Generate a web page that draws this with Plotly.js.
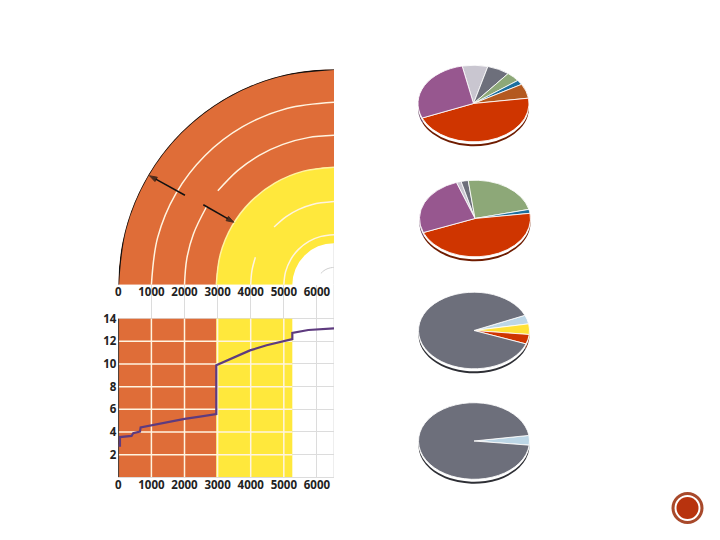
<!DOCTYPE html>
<html><head><meta charset="utf-8">
<script src="https://cdn.plot.ly/plotly-3.0.1.min.js"></script>
<style>html,body{margin:0;padding:0;background:#fff}#g{width:720px;height:540px}</style>
</head><body><div id="g"></div>
<script>
// ---- data ----
const tickDepths = [0,1000,2000,3000,4000,5000,6000];
const yTicks = [2,4,6,8,10,12,14];
const mantleDepth = [0,2960];
const coreDepth = [2960,5257];
const lineX = [0,50,50,400,450,655,675,1007,2004,2467,2960,2960,3978,4481,4985,5257,5257,5740,6516];
const lineY = [2.8,2.8,3.55,3.65,3.9,4.03,4.4,4.6,5.15,5.35,5.58,9.9,11.2,11.65,12.05,12.2,12.75,13,13.15];
const pie1Values = [26.8,23.6,14.4,7,22,165.7,100.5];
const pie1Colors = ['#c9c6d0','#6d6f7b','#8da878','#1d6f9e','#b4591f','#cf3500','#97578f'];
const pie1Rim    = ['#77757c','#3c3d44','#55654a','#10405c','#6b3412','#6f1c00','#5a3455'];
const pie2Values = [5.1,7.5,83.2,6,166.2,91.9];
const pie2Colors = ['#c9c6d0','#6d6f7b','#8da878','#1d6f9e','#cf3500','#97578f'];
const pie2Rim    = ['#77757c','#3c3d44','#55654a','#10405c','#6f1c00','#5a3455'];
const pie3Values = [13.4,16,14.5,316.1];
const pie3Colors = ['#bcd6e6','#ffe135','#cf3500','#6d6f7b'];
const pie3Rim    = ['#70808a','#998720','#6f1c00','#2e2f35'];
const pie4Values = [14.7,345.3];
const pie4Colors = ['#bcd6e6','#6d6f7b'];
const pie4Rim    = ['#70808a','#2e2f35'];

const W=720,H=540, ORANGE='#df6d38', YELLOW='#ffe83c', GRID='#dcdcdc', XMAX=6516;
const fx=p=>p/W, fy=p=>1-p/H;
const tickFont={family:'"Open Sans",sans-serif',size:11.5,color:'#222',weight:700};

const traces=[];
// ---- lower chart ----
traces.push({type:'bar',x:[(mantleDepth[0]+mantleDepth[1])/2],y:[14],width:[mantleDepth[1]-mantleDepth[0]],marker:{color:ORANGE,line:{width:0}},xaxis:'x',yaxis:'y'});
traces.push({type:'bar',x:[(coreDepth[0]+coreDepth[1])/2],y:[14],width:[coreDepth[1]-coreDepth[0]],marker:{color:YELLOW,line:{width:0}},xaxis:'x',yaxis:'y'});
tickDepths.filter(d=>d>0&&d<coreDepth[1]).forEach(d=>traces.push({type:'scatter',mode:'lines',x:[d,d],y:[0,14],line:{color:'#fff4e0',width:1.5},xaxis:'x',yaxis:'y'}));
yTicks.filter(v=>v<14).forEach(v=>traces.push({type:'scatter',mode:'lines',x:[0,coreDepth[1]],y:[v,v],line:{color:'#fff4e0',width:1.5},xaxis:'x',yaxis:'y'}));
traces.push({type:'scatter',mode:'lines',x:[0,0],y:[0,14],line:{color:'#111',width:1.5},xaxis:'x',yaxis:'y'});
traces.push({type:'scatter',mode:'lines',x:[XMAX,XMAX],y:[0,16.97],line:{color:GRID,width:1},cliponaxis:false,xaxis:'x',yaxis:'y'});
traces.push({type:'scatter',mode:'lines',x:lineX,y:lineY,line:{color:'#5e3b7f',width:2.2},cliponaxis:false,xaxis:'x',yaxis:'y'});
// helper trace so the upper tick row has an axis
traces.push({type:'scatter',mode:'lines',x:[0,XMAX],y:[0,0],line:{width:0},xaxis:'x2',yaxis:'y2'});

// ---- upper quarter rings ----
traces.push({type:'barpolar',r:[mantleDepth[1]-mantleDepth[0]],base:[mantleDepth[0]],theta:[135],width:[90],marker:{color:ORANGE,line:{width:0}},subplot:'polar'});
traces.push({type:'barpolar',r:[coreDepth[1]-coreDepth[0]],base:[coreDepth[0]],theta:[135],width:[90],marker:{color:YELLOW,line:{width:0}},subplot:'polar'});
const arcs=[
 {d:1000,t:[180,165,150,135,120,105,90]},
 {d:2000,t:[180,170,160,148.5]},
 {d:2000,t:[141,130,120,110,100,90]},
 {d:4000,t:[180,170,160.7]},
 {d:4000,t:[136,125,115,105,90]},
 {d:5000,t:[180,165,150,135,120,105,90]},
 {d:0,t:[180,165,150,135,120,105,90],c:'#111',w:1.5},
 {d:2960,t:[180,165,150,135,120,105,90],c:'#fff3a0',w:1.5},
 {d:5990,t:[139,125,110,95,90],c:'#cfcfcf',w:1},
];
arcs.forEach(a=>{
  traces.push({type:'scatterpolar',mode:'lines',r:a.t.map(()=>a.d),theta:a.t,line:{color:a.c||'#fff4e0',width:a.w||1.5,shape:'spline'},subplot:'polar'});
});
traces.push({type:'scatterpolar',mode:'lines',r:[5257,XMAX],theta:[90,90],line:{color:GRID,width:1},subplot:'polar'});
const arrows=[{r:[1262,40],t:[149,149.4]},{r:[1886,2950],t:[148.5,148]}];
arrows.forEach(a=>traces.push({type:'scatterpolar',mode:'lines+markers',r:a.r,theta:a.t,line:{color:'#111',width:1.5},
  marker:{symbol:['circle','arrow'],size:[0,8],color:'#111',line:{color:'#111',width:1},angleref:'previous'},subplot:'polar'}));

// ---- tilted pies ----
const R=55.5, K=0.69;
function pie(values,colors,rotation,cx,cy,line){
  const r=R;
  traces.push({type:'pie',values,sort:false,direction:'clockwise',rotation,textinfo:'none',hoverinfo:'skip',showlegend:false,
    marker:{colors,line:{color:line?'#fff':'rgba(0,0,0,0)',width:line?1:0}},
    domain:{x:[fx(cx-r),fx(cx+r)],y:[fy(cy+r),fy(cy-r)]}});
}
const pies=[
 {v:pie1Values,c:pie1Colors,rim:pie1Rim,rot:-11.8,cx:473.5,cy:103.5},
 {v:pie2Values,c:pie2Colors,rim:pie2Rim,rot:-19.6,cx:475,cy:218.5},
 {v:pie3Values,c:pie3Colors,rim:pie3Rim,rot:66.6,cx:474,cy:330.5},
 {v:pie4Values,c:pie4Colors,rim:pie4Rim,rot:81.6,cx:474,cy:441},
];
const squash=[];
pies.forEach(p=>{
  pie(p.v,p.rim,p.rot,p.cx,p.cy+4.5,false); squash.push(p.cy+4.5);
  pie(p.v,p.v.map(()=>'#ffffff'),p.rot,p.cx,p.cy+2.5,false); squash.push(p.cy+2.5);
  pie(p.v,p.c,p.rot,p.cx,p.cy,true); squash.push(p.cy);
});
// ---- corner badge ----
pie([1],['#a8492b'],0,687.5,508,false);
traces[traces.length-1].hole=0.81;
traces[traces.length-1].domain={x:[fx(671.5),fx(703.5)],y:[fy(524),fy(492)]};
pie([1],['#b8330e'],0,687.5,508,false);
traces[traces.length-1].domain={x:[fx(676.5),fx(698.5)],y:[fy(519),fy(497)]};

const layout={
  width:W,height:H,margin:{l:0,r:0,t:0,b:0},paper_bgcolor:'#fff',plot_bgcolor:'rgba(0,0,0,0)',showlegend:false,barmode:'overlay',
  xaxis:{domain:[fx(118.3),fx(334)],range:[0,XMAX],anchor:'y',tickvals:tickDepths,ticktext:tickDepths.map(String),tickfont:tickFont,ticklabelstandoff:-3,showgrid:true,gridcolor:GRID,gridwidth:1,zeroline:false,showline:true,linecolor:GRID,ticks:'',ticklen:0},
  yaxis:{domain:[fy(477.3),fy(285)],range:[0,16.97],anchor:'x',tickvals:yTicks,ticktext:yTicks.map(String),tickfont:tickFont,ticklabelstandoff:1,showgrid:true,gridcolor:GRID,gridwidth:1,zeroline:false,showline:false,ticks:'',ticklen:0},
  xaxis2:{domain:[fx(118.3),fx(334)],range:[0,XMAX],anchor:'y2',tickvals:tickDepths,ticktext:tickDepths.map(String),tickfont:tickFont,ticklabelstandoff:-3,showgrid:false,zeroline:false,showline:false,ticks:'',ticklen:0},
  yaxis2:{domain:[fy(286),fy(285)],range:[0,1],anchor:'x2',visible:false},
  polar:{domain:{x:[fx(118.3),fx(334)],y:[fy(285),fy(69)]},sector:[90,180],bgcolor:'rgba(0,0,0,0)',
    radialaxis:{range:[XMAX,0],visible:false,showgrid:false,showline:false,showticklabels:false,ticks:''},
    angularaxis:{visible:false,showgrid:false,showline:false,showticklabels:false,ticks:''},
    gridshape:'circular'}
};
Plotly.newPlot('g',traces,layout,{staticPlot:true,displayModeBar:false}).then(gd=>{
  gd.querySelectorAll('.pielayer .trace').forEach((g,i)=>{
    if(i<squash.length){const cy=squash[i];g.setAttribute('transform','translate(0,'+(cy*(1-K))+') scale(1,'+K+')');}
  });
});
</script></body></html>
